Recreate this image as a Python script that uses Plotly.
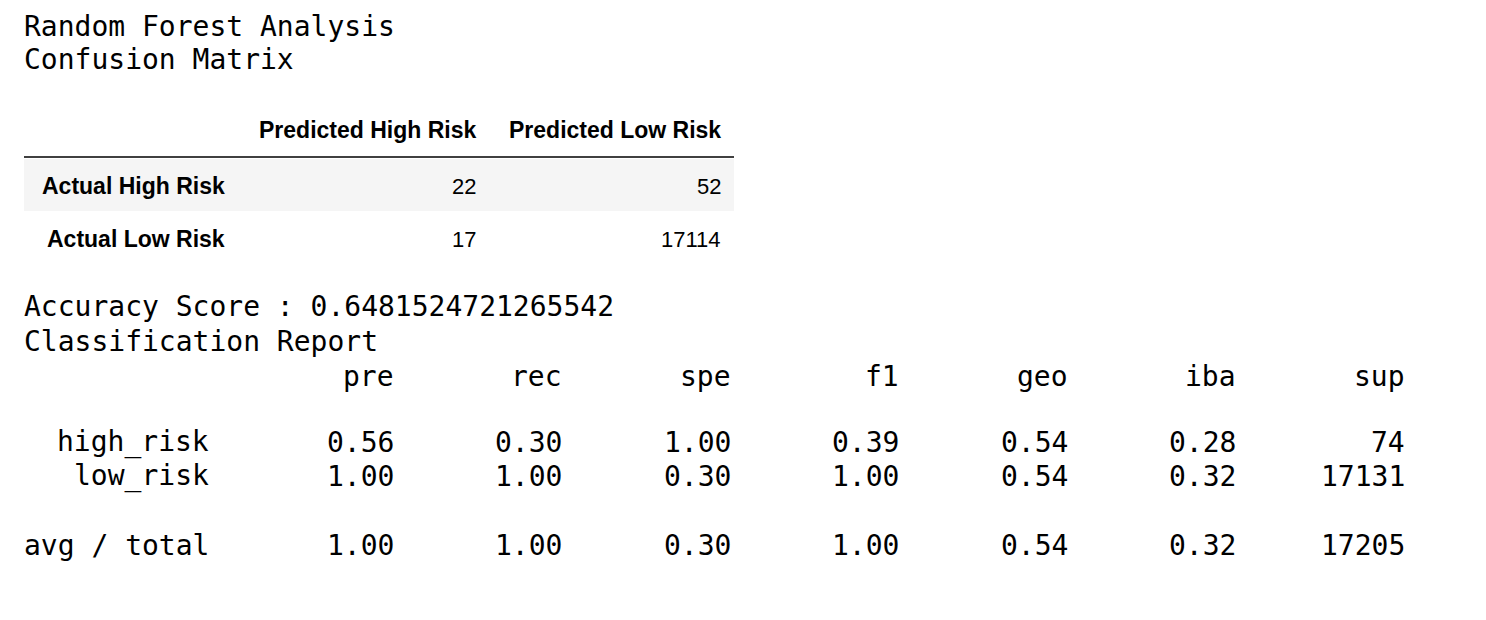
import plotly.graph_objects as go

W, H = 1486, 620
title_lines = ["Random Forest Analysis", "Confusion Matrix"]
cm_cols = ["Predicted High Risk", "Predicted Low Risk"]
cm_rows = ["Actual High Risk", "Actual Low Risk"]
cm_values = [[22, 52], [17, 17114]]
accuracy = 0.6481524721265542
report_cols = ["pre", "rec", "spe", "f1", "geo", "iba", "sup"]
report_rows = ["high_risk", "low_risk"]
report_values = [["0.56", "0.30", "1.00", "0.39", "0.54", "0.28", "74"],
                 ["1.00", "1.00", "0.30", "1.00", "0.54", "0.32", "17131"]]
avg_values = ["1.00", "1.00", "0.30", "1.00", "0.54", "0.32", "17205"]

MONO = "DejaVu Sans Mono"
SANS = "Liberation Sans"
DX, DY = -8, -8
fig = go.Figure()
ann = []
def px(x): return (x + DX) / W
def py(y): return 1 - (y + DY) / H
def add(text, x, y, xanchor="left", font=MONO, size=28, bold=False):
    if bold: text = "<b>%s</b>" % text
    ann.append(dict(text=text, x=px(x), y=py(y), xref="paper", yref="paper",
                    xanchor=xanchor, yanchor="middle", showarrow=False,
                    font=dict(family=font, size=size, color="black")))

add(title_lines[0], 22, 26)
add(title_lines[1], 22, 60)
shapes = [
    dict(type="rect", xref="paper", yref="paper", x0=px(24), x1=px(734), y0=py(211), y1=py(159),
         fillcolor="#f5f5f5", line=dict(width=0), layer="below"),
    dict(type="line", xref="paper", yref="paper", x0=px(24), x1=px(734), y0=py(157), y1=py(157),
         line=dict(color="black", width=1.5)),
]
col_right = [478, 723]
for c, name in enumerate(cm_cols):
    add(name, col_right[c], 130, "right", SANS, 23, True)
row_y = [186, 239]
for r, name in enumerate(cm_rows):
    add(name, 227, row_y[r], "right", SANS, 23, True)
    for c in range(2):
        add(str(cm_values[r][c]), col_right[c], row_y[r], "right", SANS, 22)

add("Accuracy Score : %s" % accuracy, 22, 307)
add("Classification Report", 22, 341)
rc = [396, 564, 733, 901, 1070, 1238, 1407]
for i, c in enumerate(report_cols):
    add(c, rc[i], 376, "right")
ry = [442, 476]
for r, name in enumerate(report_rows):
    add(name, 211, ry[r], "right")
    for i, v in enumerate(report_values[r]):
        add(v, rc[i], ry[r], "right")
add("avg / total", 22, 545)
for i, v in enumerate(avg_values):
    add(v, rc[i], 545, "right")

fig.update_layout(width=W, height=H, margin=dict(l=0, r=0, t=0, b=0),
                  paper_bgcolor="white", plot_bgcolor="white",
                  xaxis=dict(visible=False), yaxis=dict(visible=False),
                  annotations=ann, shapes=shapes)
fig.write_html("out.html")
